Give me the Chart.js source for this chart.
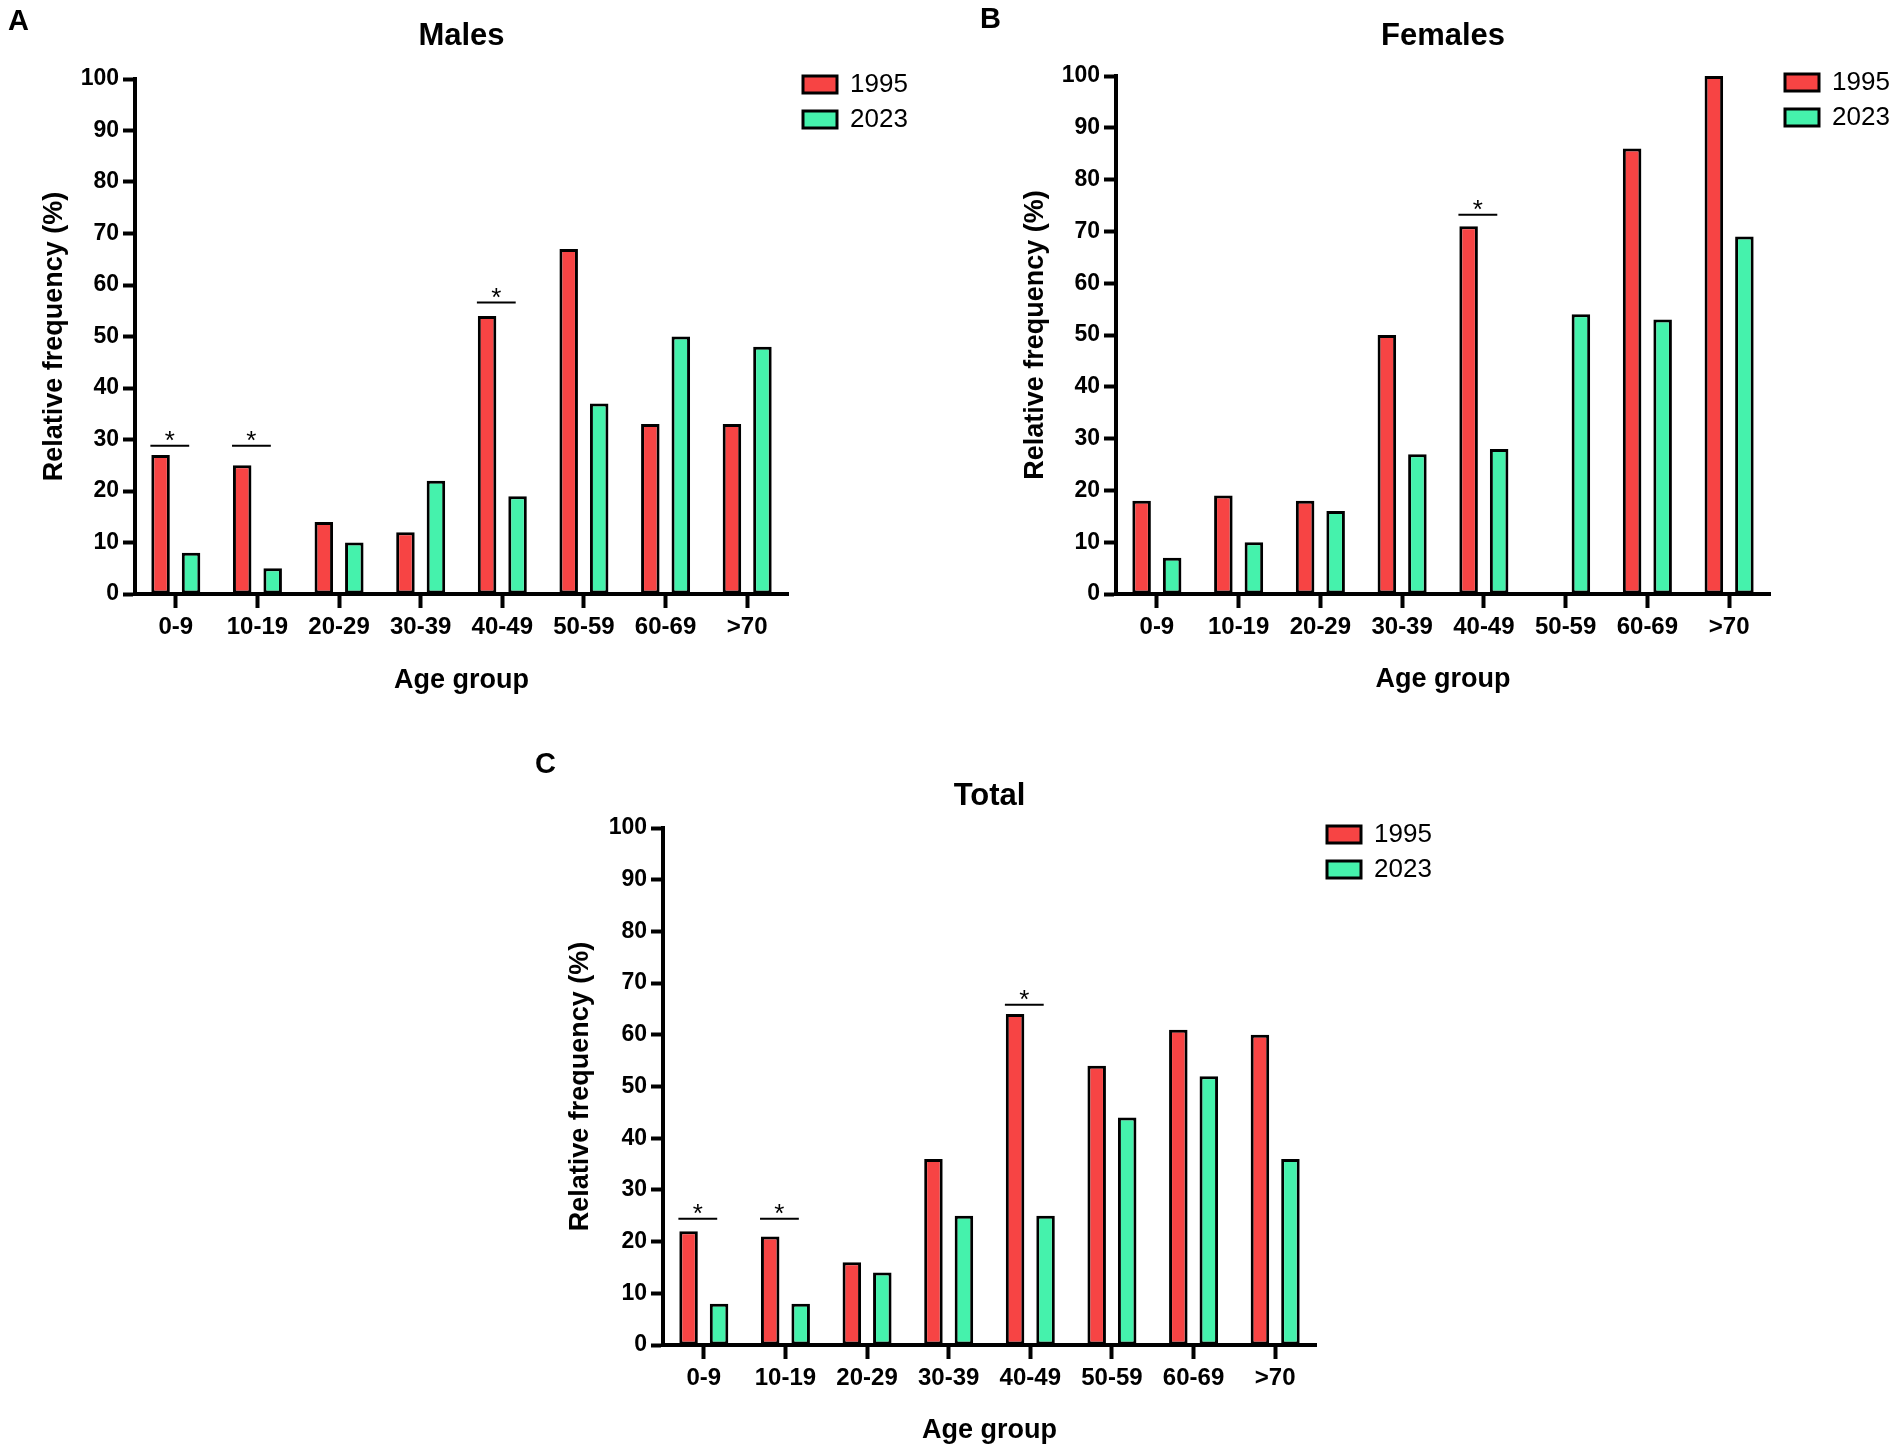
<!DOCTYPE html>
<html>
<head>
<meta charset="utf-8">
<script src="https://cdn.jsdelivr.net/npm/chart.js@4.4.1/dist/chart.umd.min.js"></script>
<style>
  body { margin: 0; background: #fff; }
  #page { position: relative; width: 1903px; height: 1451px; overflow: hidden; font-family: "Liberation Sans", Arial, sans-serif; }
  #page canvas { position: absolute; }
  .tag { position: absolute; font-weight: bold; font-size: 29px; line-height: 1; color: #000; }
</style>
</head>
<body>
<div id="page">
  <canvas id="males" width="960" height="720" style="left:0px;top:0px"></canvas>
  <canvas id="females" width="943" height="720" style="left:960px;top:0px"></canvas>
  <canvas id="total" width="960" height="711" style="left:480px;top:740px"></canvas>
  <div class="tag" style="left:8px;top:6px">A</div>
  <div class="tag" style="left:980px;top:4px">B</div>
  <div class="tag" style="left:535px;top:749px">C</div>
</div>
<script>
const ageGroups = ['0-9', '10-19', '20-29', '30-39', '40-49', '50-59', '60-69', '>70'];
const years = ['1995', '2023'];

const males1995 = [27, 25, 14, 12, 54, 67, 33, 33];
const males2023 = [8, 5, 10, 22, 19, 37, 50, 48];
const females1995 = [18, 19, 18, 50, 71, 0, 86, 100];
const females2023 = [7, 10, 16, 27, 28, 54, 53, 69];
const total1995 = [22, 21, 16, 36, 64, 54, 61, 60];
const total2023 = [8, 8, 14, 25, 25, 44, 52, 36];

// significant differences (*): age group and height of the bracket
const malesSigGroups = ['0-9', '10-19', '40-49'];
const malesSigLevels = [28.8, 28.8, 56.6];
const femalesSigGroups = ['40-49'];
const femalesSigLevels = [73.2];
const totalSigGroups = ['0-9', '10-19', '40-49'];
const totalSigLevels = [24.4, 24.4, 65.8];

const yMin = 0, yMax = 100, yStep = 10;

const RED = '#F74444';
const GREEN = '#45F2AC';

Chart.defaults.font.family = '"Liberation Sans", Arial, sans-serif';
Chart.defaults.color = '#000';

// bracket with a star above two bars
const sigMarks = {
    id: 'sigMarks',
    afterDatasetsDraw(chart, args, opts) {
        const ctx = chart.ctx;
        const yScale = chart.scales.y;
        const redBars = chart.getDatasetMeta(0).data;
        const greenBars = chart.getDatasetMeta(1).data;
        opts.groups.forEach((g, k) => {
            const i = chart.data.labels.indexOf(g);
            const yy = yScale.getPixelForValue(opts.levels[k]);
            const x1 = redBars[i].x - redBars[i].width * 0.55;
            const x2 = greenBars[i].x - greenBars[i].width * 0.1;
            ctx.save();
            ctx.strokeStyle = '#000';
            ctx.lineWidth = 2;
            ctx.beginPath();
            ctx.moveTo(x1, yy);
            ctx.lineTo(x2, yy);
            ctx.stroke();
            ctx.fillStyle = '#000';
            ctx.font = '26px "Liberation Sans", Arial, sans-serif';
            ctx.textAlign = 'center';
            ctx.textBaseline = 'alphabetic';
            ctx.fillText('*', (x1 + x2) / 2, yy + 3);
            ctx.restore();
        });
    }
};

// move the legend up next to the top of the y axis, and let its text run past the layout width
const legendNudge = {
    id: 'legendNudge',
    afterLayout(chart, args, opts) {
        const lg = chart.legend;
        const area = chart.chartArea;
        const h = lg.height;
        lg.left = area.right + opts.dx;
        lg.width = 160;
        lg.right = lg.left + lg.width;
        lg.top = area.top + opts.dy;
        lg.bottom = lg.top + h;
    }
};

function createPanel(id, title, red, green, sigGroups, sigLevels, geo) {
    const canvas = document.getElementById(id);
    const W = canvas.width, H = canvas.height;
    const legendWidth = 110;
    const titleLine = 31 * 1.2;
    const axisTitleLine = 27 * 1.2;

    return new Chart(canvas.getContext('2d'), {
        type: 'bar',
        data: {
            labels: ageGroups,
            datasets: [
                { label: years[0], data: red, backgroundColor: RED, borderColor: '#000', borderWidth: 3, borderSkipped: false },
                { label: years[1], data: green, backgroundColor: GREEN, borderColor: '#000', borderWidth: 3, borderSkipped: false }
            ]
        },
        options: {
            responsive: false,
            animation: false,
            events: [],
            categoryPercentage: 0.747,
            barPercentage: 0.607,
            layout: { padding: { left: 0, top: 0, bottom: 0, right: W - geo.right - legendWidth } },
            plugins: {
                title: {
                    display: true,
                    text: title,
                    fullSize: false,
                    color: '#000',
                    font: { size: 31, weight: 'bold' },
                    padding: { top: geo.titleY - titleLine / 2, bottom: geo.top - geo.titleY - titleLine / 2 }
                },
                legend: {
                    display: true,
                    position: 'right',
                    align: 'start',
                    fullSize: false,
                    maxWidth: legendWidth,
                    labels: { boxWidth: 34, boxHeight: 17, padding: 9, color: '#000', font: { size: 26 } }
                },
                tooltip: { enabled: false },
                sigMarks: { groups: sigGroups, levels: sigLevels },
                legendNudge: { dx: geo.legendDx, dy: geo.legendDy }
            },
            scales: {
                x: {
                    offset: true,
                    grid: { offset: false, drawOnChartArea: false, drawTicks: true, tickLength: 14, tickWidth: 4, tickColor: '#000' },
                    border: { display: true, color: '#000', width: 4 },
                    ticks: { color: '#000', font: { size: 24, weight: 'bold' }, padding: 5, maxRotation: 0, autoSkip: false },
                    title: {
                        display: true,
                        text: 'Age group',
                        color: '#000',
                        font: { size: 27, weight: 'bold' },
                        padding: { top: 0, bottom: H - geo.xTitleY - axisTitleLine / 2 }
                    },
                    afterFit: scale => { scale.height = H - geo.bottom; }
                },
                y: {
                    min: yMin,
                    max: yMax,
                    grid: { drawOnChartArea: false, drawTicks: true, tickLength: 12, tickWidth: 4, tickColor: '#000' },
                    border: { display: true, color: '#000', width: 4 },
                    ticks: { stepSize: yStep, color: '#000', font: { size: 23, weight: 'bold' }, padding: 4 },
                    title: {
                        display: true,
                        text: 'Relative frequency (%)',
                        color: '#000',
                        font: { size: 27, weight: 'bold' },
                        padding: { top: geo.yTitleX - axisTitleLine / 2, bottom: 0 }
                    },
                    afterFit: scale => { scale.width = geo.left; }
                }
            }
        },
        plugins: [sigMarks, legendNudge]
    });
}

createPanel('males', 'Males', males1995, males2023, malesSigGroups, malesSigLevels,
    { left: 135, top: 79, right: 788, bottom: 594, titleY: 36.5, xTitleY: 681, yTitleX: 55, legendDx: 6, legendDy: -16.5 });
createPanel('females', 'Females', females1995, females2023, femalesSigGroups, femalesSigLevels,
    { left: 156, top: 76, right: 810, bottom: 594, titleY: 36, xTitleY: 680, yTitleX: 76, legendDx: 6, legendDy: -15.5 });
createPanel('total', 'Total', total1995, total2023, totalSigGroups, totalSigLevels,
    { left: 183, top: 88, right: 836, bottom: 605, titleY: 56.5, xTitleY: 690.7, yTitleX: 100.5, legendDx: 2, legendDy: -15.5 });
</script>
</body>
</html>
